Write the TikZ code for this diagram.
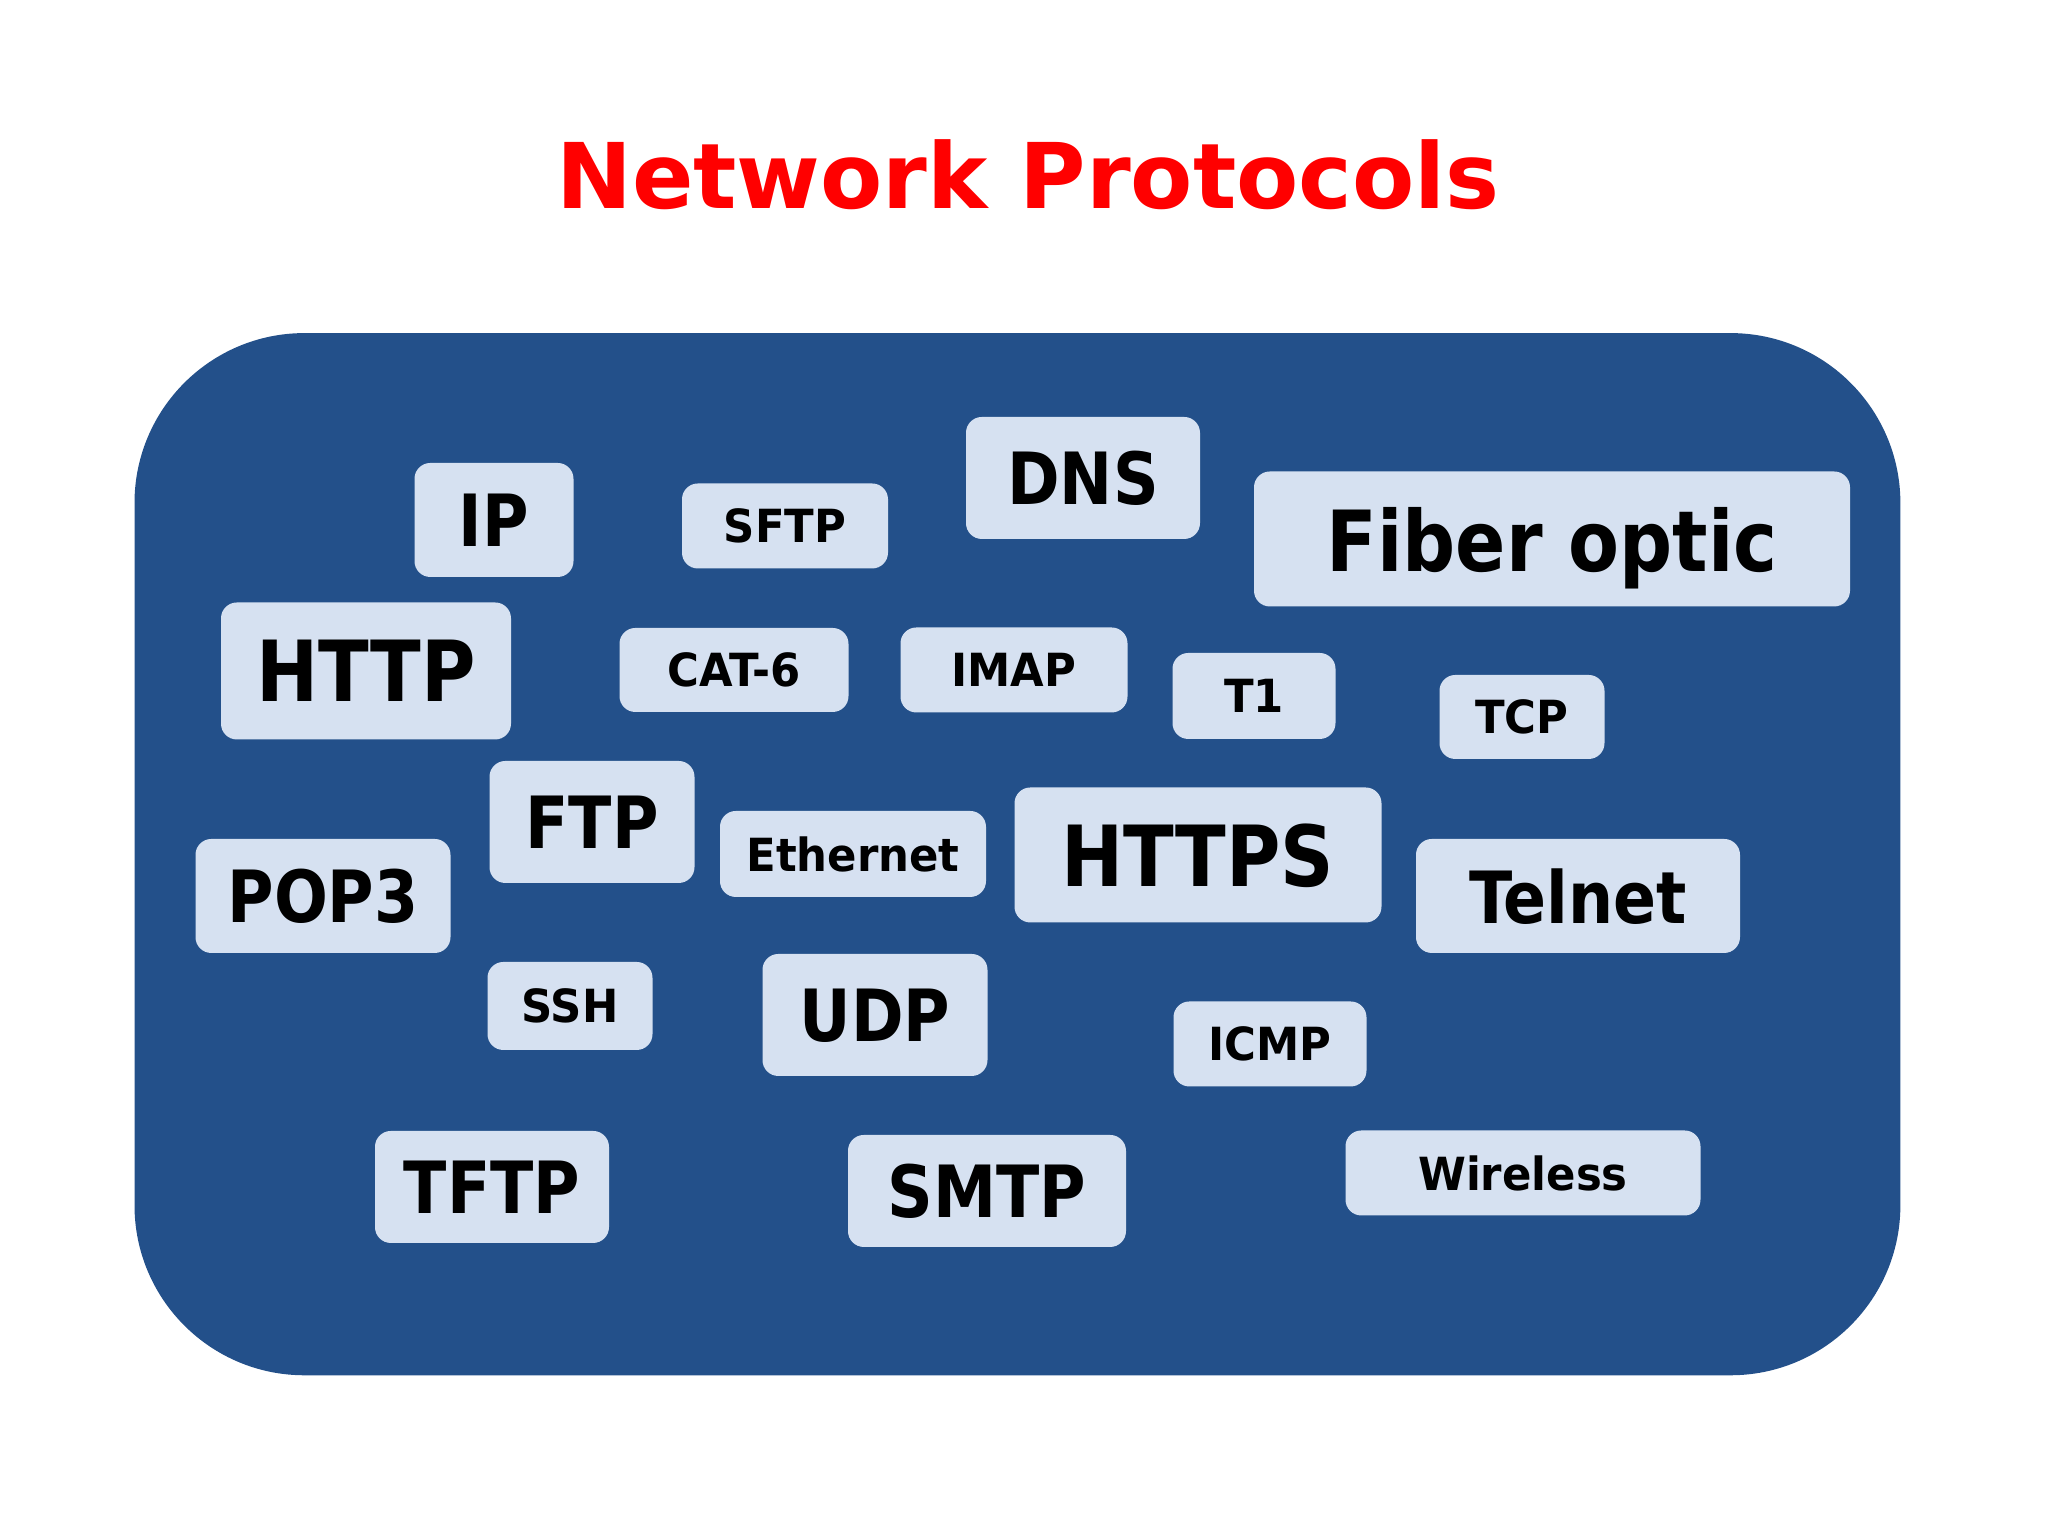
\documentclass[tikz,border=0pt]{standalone}
\usepackage{fontspec}
\usepackage{xcolor}
\usetikzlibrary{positioning}
\setmainfont{DejaVu Sans}
\newfontfamily\tagfont{DejaVu Sans}[FakeStretch=0.95]
\newfontfamily\widetagfont{DejaVu Sans}[FakeStretch=0.88]
\definecolor{panelblue}{HTML}{23508A}
\definecolor{tagfill}{HTML}{D6E1F1}
\definecolor{titlered}{HTML}{FF0000}

\begin{document}
\begin{tikzpicture}[
    tag/.style={rectangle, fill=tagfill, rounded corners=4.5pt, inner sep=0pt,
                text depth=0pt, text=black, align=center},
    small/.style={tag, font=\tagfont\bfseries\fontsize{13}{15}\selectfont},
    medium/.style={tag, font=\widetagfont\bfseries\fontsize{20.5}{24}\selectfont},
    large/.style={tag, font=\widetagfont\bfseries\fontsize{24}{28}\selectfont}]
  \useasboundingbox (0,0) rectangle (20.48,15.36);

  % Title
  \node[anchor=base, text=titlered, font=\bfseries\fontsize{25.8}{30}\selectfont] (title) at (10.28,13.27) {Network Protocols};

  % Panel
  \fill[panelblue, rounded corners=1.7cm] (1.345,1.607) rectangle (19.004,12.029);

  % Top rows
  \node[medium, minimum width=1.59cm, minimum height=1.14cm] (ip) at (4.94,10.16) {IP};
  \node[small, minimum width=2.06cm, minimum height=0.85cm] (sftp) at (7.85,10.10) {SFTP};
  \node[medium, minimum width=2.34cm, minimum height=1.22cm] (dns) at (10.83,10.58) {DNS};
  \node[large, minimum width=5.96cm, minimum height=1.35cm] (fiber) at (15.52,9.97) {Fiber optic};
  \node[large, minimum width=2.90cm, minimum height=1.37cm] (http) at (3.66,8.65) {HTTP};
  \node[small, minimum width=2.29cm, minimum height=0.84cm] (cat) at (7.34,8.66) {CAT-6};
  \node[small, minimum width=2.27cm, minimum height=0.85cm] (imap) at (10.14,8.66) {IMAP};
  \node[small, minimum width=1.63cm, minimum height=0.86cm] (tone) at (12.54,8.40) {T1};
  \node[small, minimum width=1.65cm, minimum height=0.84cm] (tcp) at (15.22,8.19) {TCP};

  % Middle rows
  \node[medium, minimum width=2.05cm, minimum height=1.22cm] (ftp) at (5.92,7.14) {FTP};
  \node[small, minimum width=2.66cm, minimum height=0.86cm] (ethernet) at (8.53,6.82) {Ethernet};
  \node[large, minimum width=3.67cm, minimum height=1.35cm] (https) at (11.98,6.81) {HTTPS};
  \node[medium, minimum width=3.24cm, minimum height=1.14cm] (telnet) at (15.78,6.40) {Telnet};
  \node[medium, minimum width=2.55cm, minimum height=1.14cm] (pop) at (3.23,6.40) {POP3};
  \node[small, minimum width=1.65cm, minimum height=0.88cm] (ssh) at (5.70,5.30) {SSH};
  \node[medium, minimum width=2.25cm, minimum height=1.22cm] (udp) at (8.75,5.21) {UDP};
  \node[small, minimum width=1.93cm, minimum height=0.85cm] (icmp) at (12.70,4.92) {ICMP};

  % Bottom row
  \node[medium, minimum width=2.34cm, minimum height=1.12cm] (tftp) at (4.92,3.49) {TFTP};
  \node[medium, minimum width=2.78cm, minimum height=1.12cm] (smtp) at (9.87,3.45) {SMTP};
  \node[small, minimum width=3.55cm, minimum height=0.85cm] (wireless) at (15.23,3.63) {Wireless};
\end{tikzpicture}
\end{document}
